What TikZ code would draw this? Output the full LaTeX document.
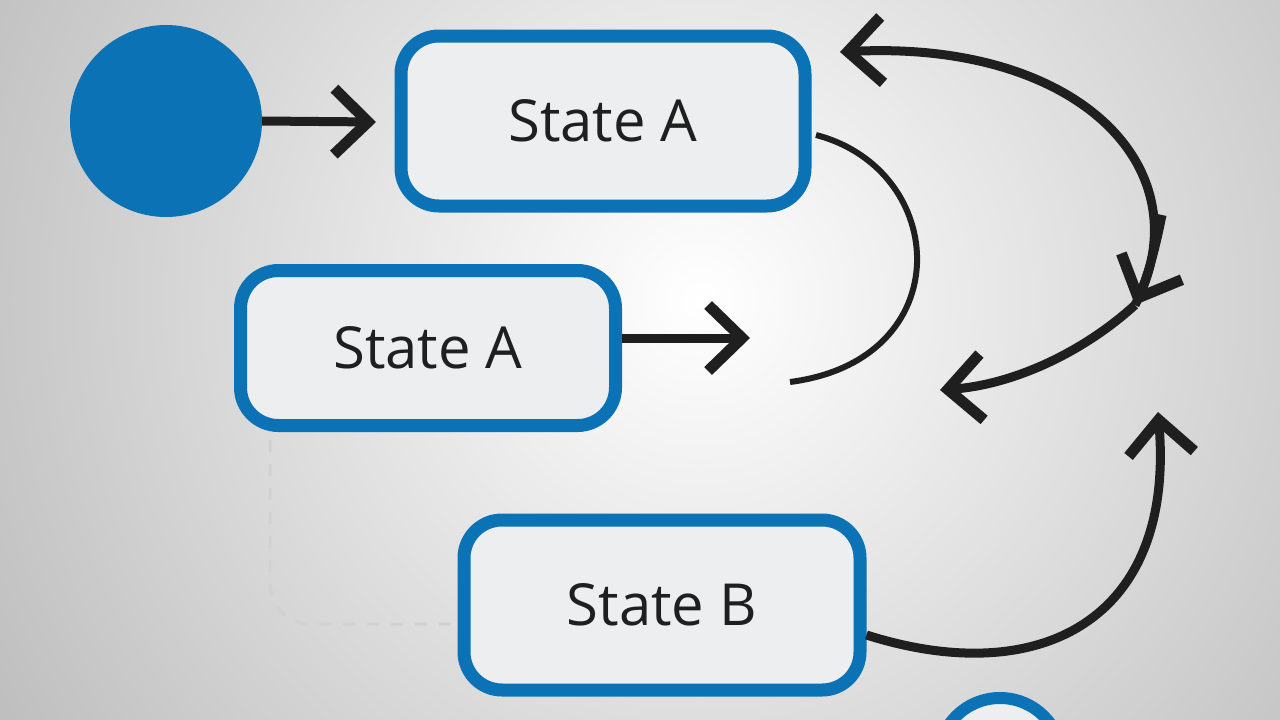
\documentclass[tikz,border=0pt]{standalone}
\usepackage{fontspec}
\setmainfont{Open Sans}
\usetikzlibrary{arrows.meta}
\definecolor{umlblue}{HTML}{0A72B5}
\definecolor{boxfill}{HTML}{EDEEEF}
\tikzset{
  statebox/.style={draw=umlblue,line width=13pt,fill=boxfill,rounded corners=38pt,minimum height=170pt,font=\fontsize{58}{62}\selectfont,text=black!88},
  conn/.style={line width=9pt,draw=black!88,-{Straight Barb[length=34pt,width=66pt,line width=11pt]}},
  plain/.style={line width=6pt,draw=black!88},
}
\begin{document}
\begin{tikzpicture}[x=1pt,y=-1pt]
\useasboundingbox (0,0) rectangle (1280,720);
\begin{scope}
\clip (0,0) rectangle (1280,720);
\shade[inner color=white,outer color=black!28] (700,300) circle (900);
\end{scope}
\node[circle,fill=umlblue,minimum size=192pt,inner sep=0] (init) at (166,121) {};
\node[statebox,minimum width=404pt] (a1) at (603,121) {State A};
\node[statebox,minimum width=375pt,minimum height=155pt] (a2) at (428,348) {State A};
\node[statebox,minimum width=396pt] (b) at (662,605) {State B};
\draw[black!18,line width=3pt,dash pattern=on 12pt off 12pt,rounded corners=40pt] (270,440) -- (270,624) -- (b.west |- 0,624);
\draw[conn] (init.east) -- (376,122);
\draw[conn] (a2.east |- 0,338) -- (750,338);
\draw[plain] (816,135) .. controls (950,170) and (960,360) .. (790,382);
\coordinate (j) at (1135,305);
\coordinate (jm) at (1162,215);
\draw[conn] (j) .. controls (1205,170) and (1080,40) .. (840,52);
\draw[conn] (jm) .. controls (1155,250) and (1148,275) .. (j);
\draw[conn] (j) .. controls (1080,355) and (1010,385) .. (940,390);
\draw[conn] (b.east |- 0,635) .. controls (1040,690) and (1175,620) .. (1158,412);
\draw[umlblue,line width=12pt,fill=boxfill] (1000,760) ellipse (62 and 62);
\end{tikzpicture}
\end{document}
